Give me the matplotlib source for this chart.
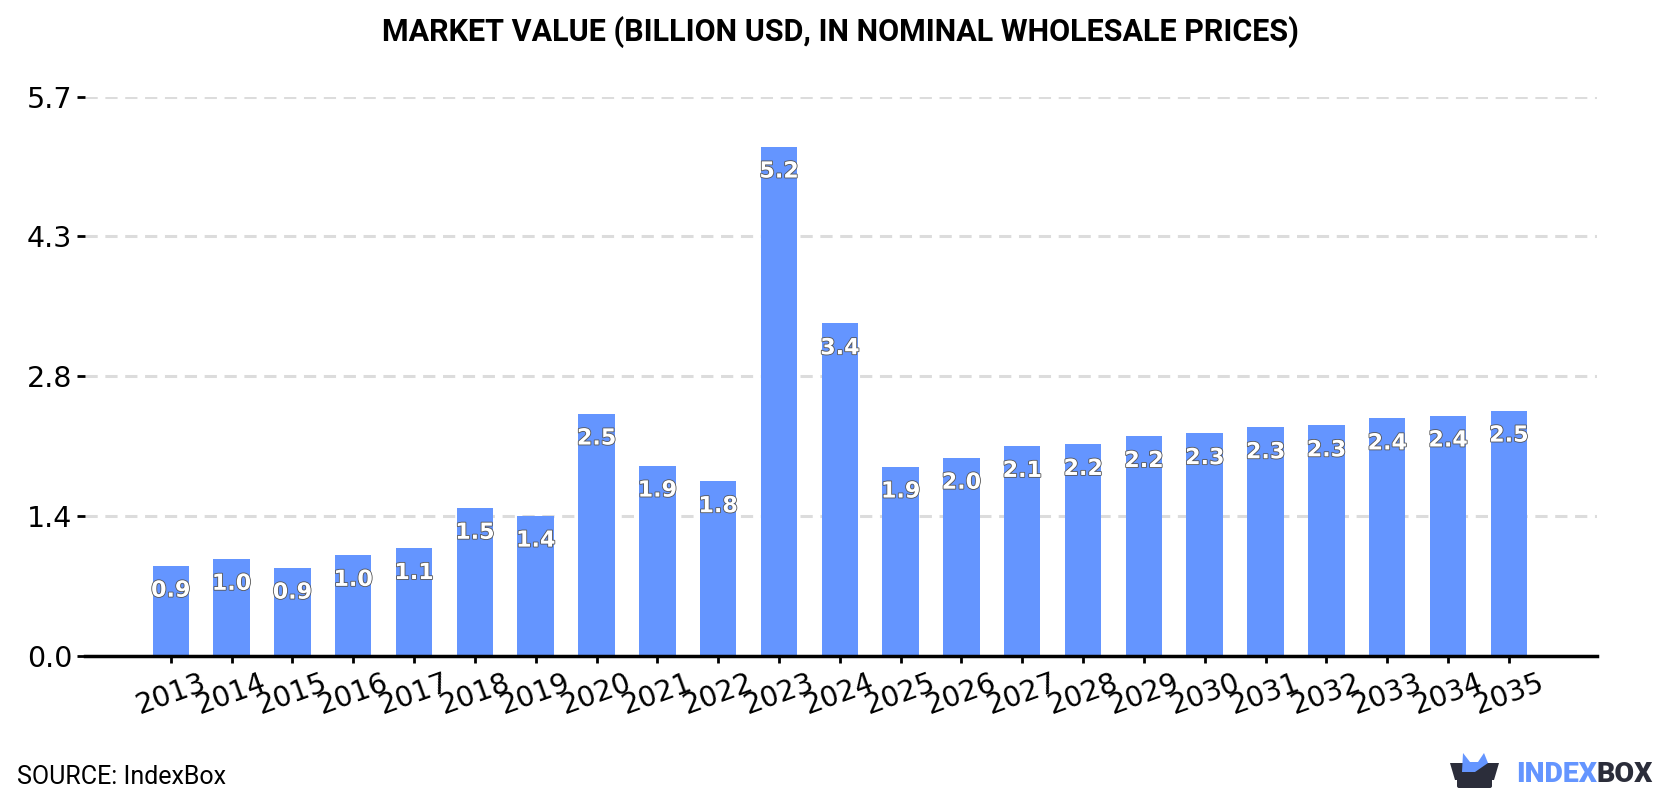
#--coding:utf-8--
# market value bars with IndexBox footer

import matplotlib
matplotlib.use('Agg')
import matplotlib.pyplot as plt
import matplotlib.patheffects as pe
from matplotlib.patches import Polygon, FancyBboxPatch

years = list(range(2013, 2036))
values = [0.92, 0.99, 0.90, 1.03, 1.10, 1.51, 1.43, 2.47, 1.94, 1.78, 5.19, 3.39,
          1.93, 2.02, 2.14, 2.16, 2.24, 2.27, 2.33, 2.35, 2.42, 2.45, 2.50]
value_labels = ['0.9', '1.0', '0.9', '1.0', '1.1', '1.5', '1.4', '2.5', '1.9', '1.8', '5.2', '3.4',
                '1.9', '2.0', '2.1', '2.2', '2.2', '2.3', '2.3', '2.3', '2.4', '2.4', '2.5']
yticks = [0.0, 1.425, 2.85, 4.275, 5.7]
ytick_labels = ['0.0', '1.4', '2.8', '4.3', '5.7']

BLUE = '#6495ff'
DARK = '#2b2d3a'

W, H = 1680, 800
fig = plt.figure(figsize=(W / 100, H / 100), dpi=100)
ax = fig.add_axes([85 / W, 1 - 656 / H, (1597 - 85) / W, (656 - 96.5) / H])

ax.bar(years, values, width=0.6, color=BLUE, zorder=2)
ax.set_xlim(2013 - 1.41, 2013 + 23.45)
ax.set_ylim(0, 5.7)

for year, val, label in zip(years, values, value_labels):
    ax.annotate(label, (year, val), xytext=(0, -25), textcoords='offset pixels',
                ha='center', va='center', fontsize=16, fontweight='bold', color='white',
                family='DejaVu Sans', zorder=3,
                path_effects=[pe.withStroke(linewidth=1.2, foreground='#555555')])

ax.set_yticks(yticks)
ax.set_yticklabels(ytick_labels, fontsize=20.5, family='DejaVu Sans')
ax.set_xticks(years)
ax.set_xticklabels(years, fontsize=20.5, rotation=20, family='DejaVu Sans')
ax.tick_params(axis='y', length=5.8, width=2, pad=3.5)
ax.tick_params(axis='x', length=5, width=2, pad=4)
ax.grid(axis='y', color='#dcdcdc', linestyle=(0, (4, 2.5)), linewidth=2.2, zorder=1)
ax.set_axisbelow(True)
for side in ['top', 'right', 'left']:
    ax.spines[side].set_visible(False)
ax.spines['bottom'].set_linewidth(2.5)

fig.text(840 / W, 1 - 32 / H, 'MARKET VALUE (BILLION USD, IN NOMINAL WHOLESALE PRICES)',
         ha='center', va='center', fontsize=22, fontweight='bold', family='Roboto')
fig.text(17 / W, 1 - 777 / H, 'SOURCE: IndexBox', ha='left', va='center', fontsize=18, family='Roboto')

# logo, drawn in pixel coordinates on a full-figure overlay
overlay = fig.add_axes([0, 0, 1, 1])
overlay.set_xlim(0, W)
overlay.set_ylim(H, 0)
overlay.axis('off')
overlay.patch.set_alpha(0)
overlay.add_patch(FancyBboxPatch((1459, 772), 31, 14, boxstyle='round,pad=2', color=DARK, lw=0))
overlay.add_patch(Polygon([(1450, 763), (1499, 763), (1494, 780), (1455, 780)], closed=True,
                          color=DARK, lw=0))
overlay.add_patch(Polygon([(1462, 772), (1463, 753), (1470, 762), (1478, 762), (1484, 753),
                           (1488, 763), (1475, 772)], closed=True, color=BLUE, lw=0))
overlay.text(1597, 774, 'INDEX', ha='right', va='center', fontsize=20.5, fontweight='heavy',
             color=BLUE, family='Roboto')
overlay.text(1597, 774, 'BOX', ha='left', va='center', fontsize=20.5, fontweight='heavy',
             color=DARK, family='Roboto')

fig.savefig('out.png', dpi=100)
